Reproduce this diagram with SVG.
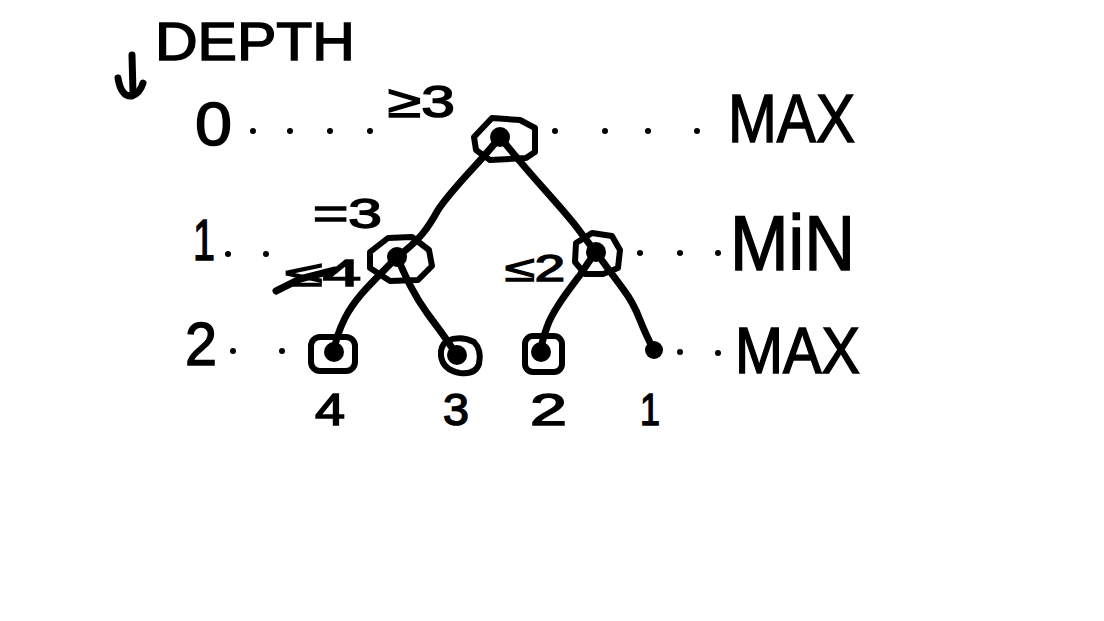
<svg xmlns="http://www.w3.org/2000/svg" width="1104" height="621" viewBox="0 0 1104 621">
<style>
.t{font-family:"Liberation Sans","DejaVu Sans",sans-serif;fill:#000;stroke:#000;stroke-width:1.5;}
.ln{fill:none;stroke:#000;stroke-width:7;stroke-linecap:round;stroke-linejoin:round;}
.ring{fill:none;stroke:#000;stroke-width:6;stroke-linejoin:round;}
.dot{fill:#000;}
.sd{fill:#000;}
</style>
<rect width="1104" height="621" fill="#fff"/>
<g id="depth-axis">
<path class="ln" d="M132,55 L133,93" stroke-width="6"/>
<path class="ln" d="M118,78 Q121,97 132,96 Q140,93 143,83" stroke-width="6"/>
<text class="t" x="155" y="60" font-size="53" textLength="200" lengthAdjust="spacingAndGlyphs">DEPTH</text>
</g>
<g id="level-labels">
<text class="t" x="195" y="145" font-size="62" textLength="37" lengthAdjust="spacingAndGlyphs">0</text>
<text class="t" x="193" y="260" font-size="58" textLength="22" lengthAdjust="spacingAndGlyphs">1</text>
<text class="t" x="185" y="365" font-size="62" textLength="32" lengthAdjust="spacingAndGlyphs">2</text>
<text class="t" x="728" y="142" font-size="68" textLength="127" lengthAdjust="spacingAndGlyphs">MAX</text>
<text class="t" x="730" y="270" font-size="78" textLength="125" lengthAdjust="spacingAndGlyphs">MiN</text>
<text class="t" x="735" y="373" font-size="65" textLength="125" lengthAdjust="spacingAndGlyphs">MAX</text>
</g>
<g id="guide-dots">
<circle class="sd" cx="253" cy="131" r="3"/><circle class="sd" cx="290" cy="131" r="3"/><circle class="sd" cx="330" cy="131" r="3"/><circle class="sd" cx="370" cy="131" r="3"/>
<circle class="sd" cx="555" cy="131" r="3"/><circle class="sd" cx="605" cy="131" r="3"/><circle class="sd" cx="648" cy="131" r="3"/><circle class="sd" cx="697" cy="131" r="3"/>
<circle class="sd" cx="228" cy="254" r="3"/><circle class="sd" cx="266" cy="254" r="3"/>
<circle class="sd" cx="640" cy="253" r="3"/><circle class="sd" cx="680" cy="253" r="3"/><circle class="sd" cx="718" cy="253" r="3"/>
<circle class="sd" cx="233" cy="351" r="3"/><circle class="sd" cx="282" cy="351" r="3"/>
<circle class="sd" cx="680" cy="352" r="3"/><circle class="sd" cx="718" cy="353" r="3"/>
</g>
<g id="connectors">
<path class="ln" d="M500,137 C478,165 455,185 438,210 C428,228 420,240 397,257"/>
<path class="ln" d="M500,137 C530,175 555,200 575,225 C585,238 590,245 596,252"/>
<path class="ln" d="M397,257 C375,280 357,295 345,318 C338,332 335,342 334,352"/>
<path class="ln" d="M397,257 C405,275 412,292 427,313 C440,330 447,340 457,355"/>
<path class="ln" d="M596,252 C588,262 585,268 580,275 C565,295 552,312 547,327 C543,338 541,346 541,352"/>
<path class="ln" d="M596,252 C605,265 615,278 623,289 C630,298 635,307 640,320 C646,335 650,343 654,350"/>
</g>
<g id="root">
<polygon class="ring" points="474,137 492,118 520,120 535,128 535,152 526,158 490,160 476,150"/>
<circle class="dot" cx="500" cy="137" r="10"/>
<text class="t" x="388" y="117" font-size="45" textLength="67" lengthAdjust="spacingAndGlyphs">≥3</text>
</g>
<g id="min-left">
<polygon class="ring" points="370,252 388,238 412,237 429,250 432,266 418,280 390,281 370,268"/>
<circle class="dot" cx="397" cy="257" r="10"/>
<text class="t" x="313" y="228" font-size="42" textLength="69" lengthAdjust="spacingAndGlyphs">=3</text>
<text class="t" x="285" y="286" font-size="36" textLength="76" lengthAdjust="spacingAndGlyphs">≤4</text>
<path class="ln" d="M276,291 L300,279 L335,270" stroke-width="4"/>
</g>
<g id="min-right">
<polygon class="ring" points="576,243 592,233 612,236 620,250 618,268 603,274 585,274 575,262"/>
<circle class="dot" cx="596" cy="252" r="10"/>
<text class="t" x="505" y="281" font-size="36" textLength="60" lengthAdjust="spacingAndGlyphs">≤2</text>
</g>
<g id="leaf-4">
<rect class="ring" x="311" y="337" width="44" height="34" rx="9"/>
<circle class="dot" cx="334" cy="352" r="10"/>
<text class="t" x="315" y="425" font-size="44" textLength="30" lengthAdjust="spacingAndGlyphs">4</text>
</g>
<g id="leaf-3">
<path class="ring" d="M447,341 Q460,335 474,342 Q482,350 479,364 Q475,375 460,373 Q443,370 441,356 Q440,346 447,341 Z"/>
<circle class="dot" cx="457" cy="355" r="10"/>
<text class="t" x="443" y="425" font-size="44" textLength="26" lengthAdjust="spacingAndGlyphs">3</text>
</g>
<g id="leaf-2">
<rect class="ring" x="525" y="336" width="37" height="36" rx="8"/>
<circle class="dot" cx="541" cy="352" r="10"/>
<text class="t" x="530" y="425" font-size="44" textLength="37" lengthAdjust="spacingAndGlyphs">2</text>
</g>
<g id="leaf-1">
<circle class="dot" cx="654" cy="350" r="9"/>
<text class="t" x="640" y="425" font-size="44" textLength="20" lengthAdjust="spacingAndGlyphs">1</text>
</g>
</svg>
